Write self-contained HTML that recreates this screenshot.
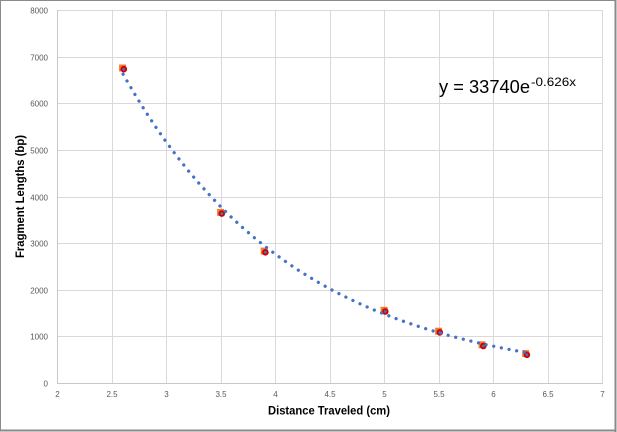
<!DOCTYPE html>
<html>
<head>
<meta charset="utf-8">
<style>
  html, body { margin:0; padding:0; background:#fff; }
  body { width:617px; height:432px; overflow:hidden; }
  svg { display:block; }
  text { font-family: "Liberation Sans", sans-serif; }
</style>
</head>
<body>
<svg width="617" height="432" viewBox="0 0 617 432" xmlns="http://www.w3.org/2000/svg">
  <rect x="0" y="0" width="617" height="432" fill="#fff"/>
  <!-- outer border -->
  <line x1="0" y1="0.5" x2="616" y2="0.5" stroke="#8a8a8a" stroke-width="1"/>
  <line x1="0.5" y1="0" x2="0.5" y2="431" stroke="#8a8a8a" stroke-width="1"/>
  <line x1="615.5" y1="0" x2="615.5" y2="432" stroke="#8a8a8a" stroke-width="2"/>
  <line x1="0" y1="430.5" x2="616" y2="430.5" stroke="#8a8a8a" stroke-width="2"/>

  <!-- gridlines -->
  <g stroke="#d9d9d9" stroke-width="1">
    <line x1="57.5" y1="10.5" x2="602.5" y2="10.5"/>
    <line x1="57.5" y1="57.5" x2="602.5" y2="57.5"/>
    <line x1="57.5" y1="103.5" x2="602.5" y2="103.5"/>
    <line x1="57.5" y1="150.5" x2="602.5" y2="150.5"/>
    <line x1="57.5" y1="197.5" x2="602.5" y2="197.5"/>
    <line x1="57.5" y1="243.5" x2="602.5" y2="243.5"/>
    <line x1="57.5" y1="290.5" x2="602.5" y2="290.5"/>
    <line x1="57.5" y1="336.5" x2="602.5" y2="336.5"/>

    <line x1="112.5" y1="10" x2="112.5" y2="383"/>
    <line x1="166.5" y1="10" x2="166.5" y2="383"/>
    <line x1="221.5" y1="10" x2="221.5" y2="383"/>
    <line x1="275.5" y1="10" x2="275.5" y2="383"/>
    <line x1="330.5" y1="10" x2="330.5" y2="383"/>
    <line x1="384.5" y1="10" x2="384.5" y2="383"/>
    <line x1="439.5" y1="10" x2="439.5" y2="383"/>
    <line x1="493.5" y1="10" x2="493.5" y2="383"/>
    <line x1="548.5" y1="10" x2="548.5" y2="383"/>
    <line x1="602.5" y1="10" x2="602.5" y2="384"/>
  </g>
  <!-- axes -->
  <g stroke="#c8c8c8" stroke-width="1">
    <line x1="57.5" y1="10" x2="57.5" y2="384"/>
    <line x1="57" y1="383.5" x2="603" y2="383.5"/>
  </g>

  <!-- y tick labels -->
  <g font-size="8" fill="#595959" text-anchor="end">
    <text x="48" y="13.3">8000</text>
    <text x="48" y="60.3">7000</text>
    <text x="48" y="106.3">6000</text>
    <text x="48" y="153.3">5000</text>
    <text x="48" y="200.3">4000</text>
    <text x="48" y="246.3">3000</text>
    <text x="48" y="293.3">2000</text>
    <text x="48" y="339.3">1000</text>
    <text x="48" y="386.3">0</text>
  </g>
  <!-- x tick labels -->
  <g font-size="8" fill="#595959" text-anchor="middle">
    <text x="57.5" y="397">2</text>
    <text x="112" y="397">2.5</text>
    <text x="166.5" y="397">3</text>
    <text x="221" y="397">3.5</text>
    <text x="275.5" y="397">4</text>
    <text x="330" y="397">4.5</text>
    <text x="384.5" y="397">5</text>
    <text x="439" y="397">5.5</text>
    <text x="493.5" y="397">6</text>
    <text x="548" y="397">6.5</text>
    <text x="602.5" y="397">7</text>
  </g>

  <!-- axis titles -->
  <text x="268" y="414.5" font-size="11.5" font-weight="bold" fill="#000" textLength="122" lengthAdjust="spacingAndGlyphs">Distance Traveled (cm)</text>
  <text transform="translate(24,258) rotate(-90)" x="0" y="0" font-size="11.5" font-weight="bold" fill="#000" textLength="123" lengthAdjust="spacingAndGlyphs">Fragment Lengths (bp)</text>

  <!-- markers -->
  <g>
    <rect x="119.1" y="64.5" width="7" height="7" fill="#ED7D31"/>
    <rect x="217.1" y="208.9" width="7" height="7" fill="#ED7D31"/>
    <rect x="260.7" y="247.6" width="7" height="7" fill="#ED7D31"/>
    <rect x="380.6" y="306.8" width="7" height="7" fill="#ED7D31"/>
    <rect x="435.1" y="327.7" width="7" height="7" fill="#ED7D31"/>
    <rect x="478.6" y="341.3" width="7" height="7" fill="#ED7D31"/>
    <rect x="522.2" y="350.1" width="7" height="7" fill="#ED7D31"/>
  </g>
  <g fill="#D40000">
    <circle cx="123.8" cy="69.2" r="3.3"/>
    <circle cx="221.8" cy="213.6" r="3.3"/>
    <circle cx="265.4" cy="252.3" r="3.3"/>
    <circle cx="385.3" cy="311.5" r="3.3"/>
    <circle cx="439.8" cy="332.4" r="3.3"/>
    <circle cx="483.3" cy="346.0" r="3.3"/>
    <circle cx="526.9" cy="354.8" r="3.3"/>
  </g>
  <g fill="#4472C4">
    <circle cx="123.8" cy="69.2" r="1.4"/>
    <circle cx="221.8" cy="213.6" r="1.4"/>
    <circle cx="265.4" cy="252.3" r="1.4"/>
    <circle cx="385.3" cy="311.5" r="1.4"/>
    <circle cx="439.8" cy="332.4" r="1.4"/>
    <circle cx="483.3" cy="346.0" r="1.4"/>
    <circle cx="526.9" cy="354.8" r="1.4"/>
  </g>

  <!-- trendline -->
  <polyline fill="none" stroke="#4472C4" stroke-width="3.3" stroke-linecap="round" stroke-dasharray="0.01 7.8"
    points="123.08,74.2 133.97,92.9 144.87,110.5 155.76,127.1 166.66,142.6 177.56,157.2 188.45,170.9 199.35,183.7 210.24,195.8 221.14,207.2 232.04,217.9 242.93,227.9 253.83,237.3 264.72,246.1 275.62,254.4 286.52,262.2 297.41,269.6 308.31,276.4 319.2,282.9 330.1,289.0 341.0,294.7 351.89,300.0 362.79,305.1 373.68,309.8 384.58,314.2 395.48,318.4 406.37,322.3 417.27,326.0 428.16,329.5 439.06,332.7 449.96,335.8 460.85,338.6 471.75,341.3 482.64,343.9 493.54,346.2 504.44,348.5 515.33,350.6 526.23,352.5"/>

  <!-- equation -->
  <text x="439" y="93" font-size="18" fill="#000" textLength="91" lengthAdjust="spacingAndGlyphs">y = 33740e</text>
  <text x="531" y="86" font-size="12" fill="#000" textLength="45" lengthAdjust="spacingAndGlyphs">-0.626x</text>
</svg>
</body>
</html>
